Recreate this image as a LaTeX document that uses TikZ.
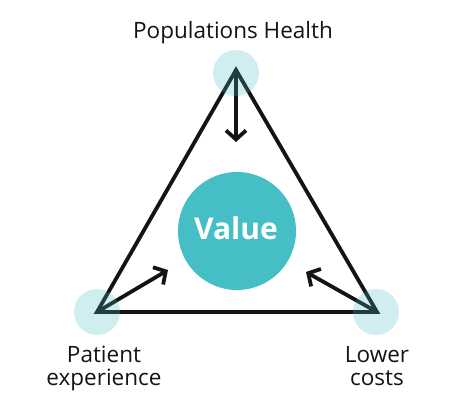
\documentclass[tikz,border=0pt]{standalone}
\usepackage{fontspec}
\setmainfont{Open Sans}
\usetikzlibrary{arrows.meta}
\definecolor{teal1}{HTML}{45BEC6}
\definecolor{ink}{HTML}{141414}
\tikzset{
  edge/.style={draw=ink, line width=3.8pt, line join=miter},
  arr/.style={draw=ink, line width=3.8pt, -{Straight Barb[length=9pt,width=20pt]}},
  halo/.style={circle, fill=teal1, fill opacity=0.25, minimum size=46pt, inner sep=0pt},
  lbl/.style={font=\fontsize{22.5}{23}\selectfont, text=ink, align=center, anchor=base},
}
\begin{document}
\begin{tikzpicture}[x=1pt,y=-1pt]
\useasboundingbox (0,0) rectangle (474,411);
\fill[white] (0,0) rectangle (474,411);
\coordinate (T) at (236,70);
\coordinate (L) at (97,312);
\coordinate (R) at (377,312);
\coordinate (Te) at (236,142);
\coordinate (Le) at (168,270);
\coordinate (Re) at (306,272);
\node[circle, fill=teal1, minimum size=118pt, inner sep=0pt] (val) at (237,231) {};
\node[text=white, font=\bfseries\fontsize{30}{30}\selectfont, anchor=base] (valtxt) at (236,240) {Value};
\draw[edge] (T) -- (L) -- (R) -- cycle;
\draw[arr] (T) -- (Te);
\draw[arr] (L) -- (Le);
\draw[arr] (R) -- (Re);
\node[halo] (hT) at (236,73) {};
\node[halo] (hL) at (97,312) {};
\node[halo] (hR) at (376,312) {};
\node[lbl] (lt) at (233,39) {Populations Health};
\node[lbl] (ll1) at (104,363) {Patient};
\node[lbl] (ll2) at (104,386) {experience};
\node[lbl] (lr1) at (377,363) {Lower};
\node[lbl] (lr2) at (377,386) {costs};
\end{tikzpicture}
\end{document}
